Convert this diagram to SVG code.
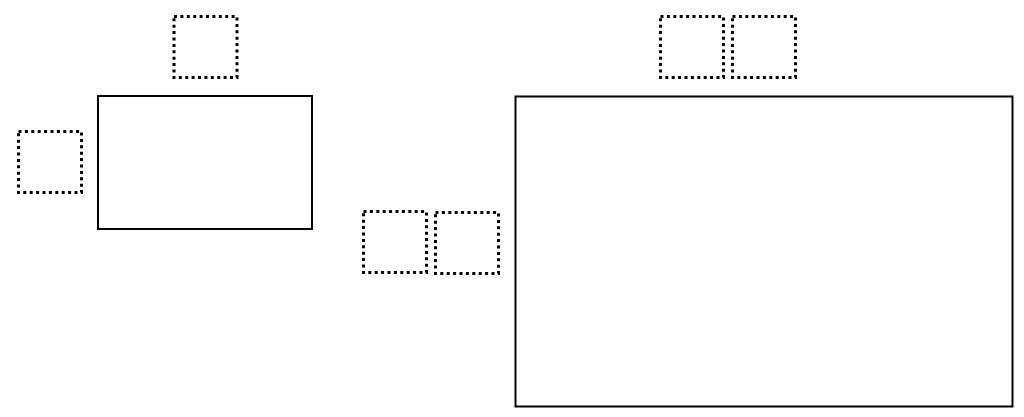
<svg xmlns="http://www.w3.org/2000/svg" width="1024" height="417" viewBox="0 0 1024 417">
<style>
.port{fill:none;stroke:#000;stroke-width:3;stroke-dasharray:3,3.4}
.box{fill:#fff;stroke:#000;stroke-width:2}
</style>
<rect width="1024" height="417" fill="#fff"/>
<g id="box-left"><rect class="box" x="98" y="96" width="214" height="133"/></g>
<g id="box-right"><rect class="box" x="515.5" y="96.5" width="497" height="310"/></g>
<g id="port-1"><rect class="port" x="174" y="16.5" width="63" height="61"/></g>
<g id="port-2"><rect class="port" x="18.5" y="131.5" width="63" height="61"/></g>
<g id="port-3"><rect class="port" x="363.5" y="211.5" width="63" height="61"/></g>
<g id="port-4"><rect class="port" x="435.5" y="212.5" width="63" height="61"/></g>
<g id="port-5"><rect class="port" x="660.5" y="16.5" width="63" height="61"/></g>
<g id="port-6"><rect class="port" x="732.5" y="16.5" width="63" height="61"/></g>
<g id="connectors"></g>
</svg>
